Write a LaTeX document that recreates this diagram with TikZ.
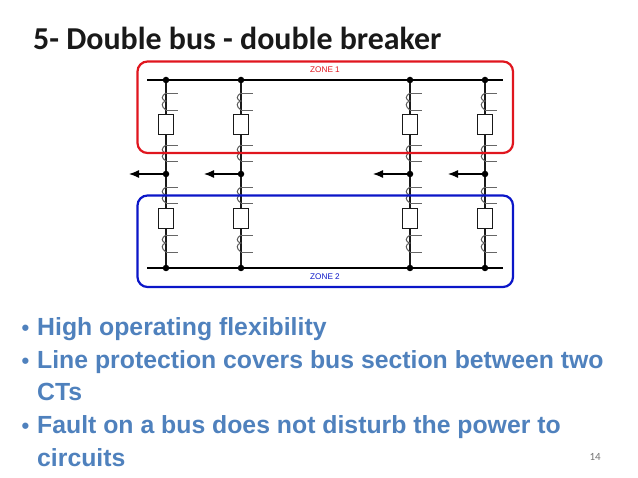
\documentclass[tikz,border=0pt]{standalone}
\usepackage{fontspec}
\setmainfont{Liberation Sans}
\newfontfamily\titlefont{Carlito}
\usetikzlibrary{arrows.meta}
\definecolor{bullettext}{HTML}{4F81BD}
\definecolor{zonered}{HTML}{E0161E}
\definecolor{zoneblue}{HTML}{0B16C8}
\tikzset{
  zonebox/.style={line width=2.2pt,rounded corners=10pt},
  busbar/.style={line width=2pt,black},
  feeder/.style={line width=1.2pt,black!90},
  breakerbox/.style={draw=black!90,line width=1.2pt,fill=white,minimum width=15pt,minimum height=19.5pt,inner sep=0pt},
  junction/.style={circle,fill=black,minimum size=6.5pt,inner sep=0pt},
  ctlead/.style={line width=.9pt,black!60},
  ctcoil/.style={line width=1pt,black!65},
  outarrow/.style={line width=1.2pt,-{Latex[length=10pt,width=8pt]}},
  bullet/.style={anchor=base west,inner sep=0pt,text=bullettext,font=\fontsize{24.8}{25}\selectfont\bfseries},
  bulletmark/.style={anchor=base west,inner sep=0pt,text=bullettext,font=\fontsize{22}{23}\selectfont\bfseries},
  zonelabel/.style={font=\fontsize{8.2}{9}\selectfont,inner sep=0pt}
}
\newcommand{\ctsym}[3]{% x, y top, y bottom
  \draw[ctlead] (#1,#2) -- (#1+12,#2);
  \draw[ctlead] (#1,#3) -- (#1+12,#3);
  \draw[ctcoil] (#1,#2) .. controls (#1-5,#2+3) and (#1-5,#2+7) .. (#1,#2+8)
     .. controls (#1-5,#2+9) and (#1-5,#3-3) .. (#1,#3);
}
\begin{document}
\begin{tikzpicture}[x=1pt,y=-1pt]
\useasboundingbox (0,0) rectangle (638,478);
\node[anchor=base west,inner sep=0pt,font=\titlefont\fontsize{31.9}{32}\selectfont\bfseries,text=black!90] (title) at (33,49.5) {5- Double bus - double breaker};

\coordinate (busAL) at (147,80); \coordinate (busAR) at (503,80);
\coordinate (busBL) at (147,268); \coordinate (busBR) at (503,268);
\draw[busbar] (busAL) -- (busAR);
\draw[busbar] (busBL) -- (busBR);

\foreach \n/\x in {a/166,b/241,c/410,d/485}{
  \node[junction] (\n top) at (\x,80) {};
  \node[junction] (\n bot) at (\x,268) {};
  \node[junction] (\n mid) at (\x,174) {};
  \node[breakerbox] (\n up) at (\x,124.5) {};
  \node[breakerbox] (\n lo) at (\x,218.5) {};
  \coordinate (\n tip) at (\x-37,174);
  \draw[feeder] (\n top) -- (\n up);
  \draw[feeder] (\n up) -- (\n mid);
  \draw[feeder] (\n mid) -- (\n lo);
  \draw[feeder] (\n lo) -- (\n bot);
  \draw[outarrow] (\n mid) -- (\n tip);
  \ctsym{\x}{93}{110}
  \ctsym{\x}{145}{161}
  \ctsym{\x}{187}{203}
  \ctsym{\x}{235}{252}
}

\draw[zonebox,draw=zonered] (137.5,61.5) rectangle (513,153);
\draw[zonebox,draw=zoneblue] (137.5,195.5) rectangle (513,287);
\node[zonelabel,text=zonered] (zone1) at (325,70) {ZONE 1};
\node[zonelabel,text=zoneblue] (zone2) at (325,277) {ZONE 2};

\node[bulletmark] (l1) at (21.5,335.5) {•};
\node[bullet] (t1) at (37,335.7) {High operating flexibility};
\node[bulletmark] (l2) at (21.5,368.5) {•};
\node[bullet] (t2) at (37,368.7) {Line protection covers bus section between two};
\node[bullet] (t2b) at (37,400.7) {CTs};
\node[bulletmark] (l3) at (21.5,433.5) {•};
\node[bullet] (t3) at (37,433.7) {Fault on a bus does not disturb the power to};
\node[bullet] (t3b) at (37,466.7) {circuits};
\node[anchor=base east,inner sep=0pt,font=\titlefont\fontsize{11}{12}\selectfont,text=black!55] (pg) at (601,461) {14};
\end{tikzpicture}
\end{document}
